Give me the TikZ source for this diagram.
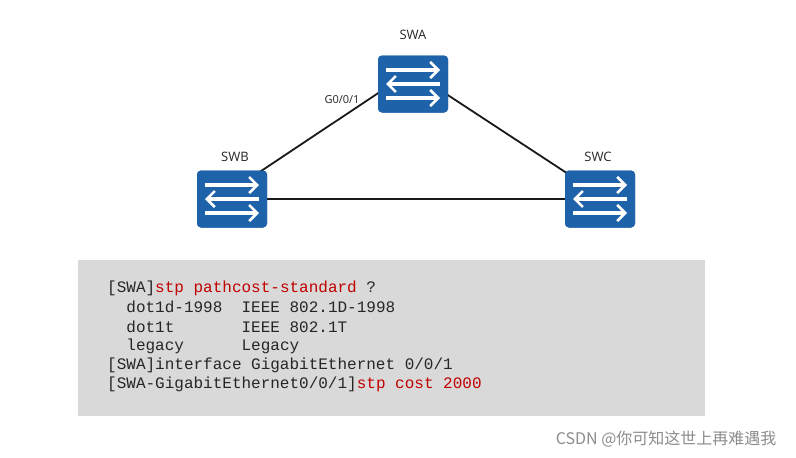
\documentclass[tikz,border=0pt]{standalone}
\usepackage{fontspec}
\setmainfont{Open Sans}
\newfontfamily\cjk{Noto Sans CJK SC}
\newfontfamily\mono{Liberation Mono}
\usetikzlibrary{arrows.meta}
\definecolor{swblue}{HTML}{1E62AA}
\definecolor{cmdred}{HTML}{C00000}
\definecolor{boxgray}{HTML}{D9D9D9}
\tikzset{
  sw/.style={draw=none,fill=swblue,rounded corners=4pt,minimum width=70pt,minimum height=57pt,inner sep=0pt},
  lbl/.style={font=\fontsize{13}{15}\selectfont,text=black!85},
  link/.style={line width=1.8pt,black!90},
  warr/.style={white,line width=3.5pt,-{Straight Barb[length=8pt,width=16pt,line width=2.6pt]}},
  cmd/.style={font=\mono\fontsize{16}{19}\selectfont,anchor=west,inner sep=0pt,text=black!85}
}
\newcommand{\arrowsicon}[1]{%
  \draw[warr] ([shift={(-27pt,-14pt)}]#1.center) -- ([shift={(27pt,-14pt)}]#1.center);
  \draw[warr] ([shift={(27pt,0pt)}]#1.center) -- ([shift={(-27pt,0pt)}]#1.center);
  \draw[warr] ([shift={(-27pt,14pt)}]#1.center) -- ([shift={(27pt,14pt)}]#1.center);
}
\begin{document}
\begin{tikzpicture}[x=1pt,y=-1pt]
\useasboundingbox (0,0) rectangle (796,458);
\node[sw] (swa) at (413,84) {};
\node[sw] (swb) at (232,199) {};
\node[sw] (swc) at (600,199) {};
\draw[link] ([shift={(-8,2)}]swb.north east) -- ([shift={(2,8)}]swa.west);
\draw[link] ([shift={(-2,10)}]swa.east) -- ([shift={(10,8)}]swc.north west);
\draw[link] (swb.east) -- (swc.west);
\node[sw] at (swa) {};
\node[sw] at (swb) {};
\node[sw] at (swc) {};
\arrowsicon{swa}
\arrowsicon{swb}
\arrowsicon{swc}
\node[lbl] (la) at (413,35) {SWA};
\node[lbl] (lb) at (235,157) {SWB};
\node[lbl] (lc) at (598,157) {SWC};
\node[lbl,font=\fontsize{11}{13}\selectfont] (lg) at (342,100) {G0/0/1};
\node[fill=boxgray,minimum width=627pt,minimum height=156pt,inner sep=0pt] (box) at (391.5,338) {};
\node[cmd] (c1) at (107,288) {[SWA]\textcolor{cmdred}{stp pathcost-standard} ?};
\node[cmd] (c2) at (107,307) {\ \ dot1d-1998\ \ IEEE 802.1D-1998};
\node[cmd] (c3) at (107,326.5) {\ \ dot1t\ \ \ \ \ \ \ IEEE 802.1T};
\node[cmd] (c4) at (107,346) {\ \ legacy\ \ \ \ \ \ Legacy};
\node[cmd] (c5) at (107,365) {[SWA]interface GigabitEthernet 0/0/1};
\node[cmd] (c6) at (107,384.5) {[SWA-GigabitEthernet0/0/1]\textcolor{cmdred}{stp cost 2000}};
\node[font=\cjk\fontsize{16}{18}\selectfont,text=black!45,anchor=east] (wm) at (780,439) {CSDN @你可知这世上再难遇我};
\end{tikzpicture}
\end{document}
